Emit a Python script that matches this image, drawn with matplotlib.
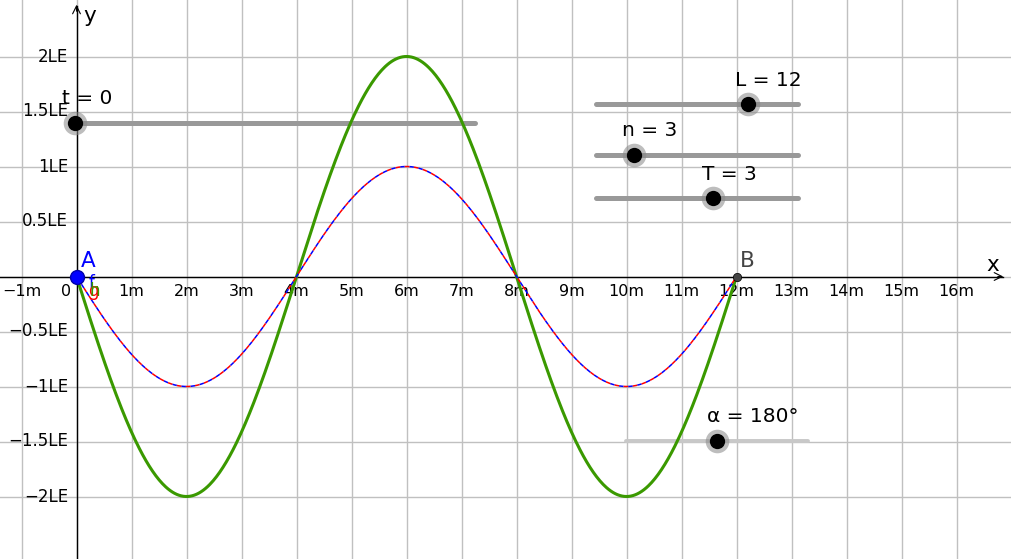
import numpy as np
import matplotlib
matplotlib.use('Agg')
import matplotlib.pyplot as plt

# ==========================================
# DATA (slider values as shown in the picture)
# ==========================================
t_val = 0
L_val = 12
n_val = 3
T_val = 3
alpha_deg = 180
amp = 1.0

x_ticks = list(range(-1, 17))
x_tick_labels = ['\u22121m', '0'] + [f'{i}m' for i in range(1, 17)]
y_ticks = [-2, -1.5, -1, -0.5, 0.5, 1, 1.5, 2]
y_tick_labels = ['\u22122LE', '\u22121.5LE', '\u22121LE', '\u22120.5LE',
                 '0.5LE', '1LE', '1.5LE', '2LE']

# sliders: name, label, value, min, max
sliders = [
    ('t', 't = 0', t_val, 0, 10),
    ('L', 'L = 12', L_val, 0, 16),
    ('n', 'n = 3', n_val, 0, 16),
    ('T', 'T = 3', T_val, 0, 5.2),
    ('alpha', '\u03b1 = 180\u00b0', alpha_deg, 0, 360),
]

# ==========================================
# LAYOUT (pixel geometry of the GeoGebra view)
# ==========================================
W, H = 1012, 559
OX, OY = 76.5, 276.5
SX, SY = 55.0, 110.0

# slider track in pixels: x0, x1, y, label x, label y, colour, width
slider_px = {
    't': (75, 475, 123, 62, 99, '#999999', 3.6),
    'L': (596, 798, 104, 735, 81, '#999999', 3.6),
    'n': (596, 798, 155, 622, 131, '#999999', 3.6),
    'T': (596, 798, 198, 702, 175, '#999999', 3.6),
    'alpha': (626, 808, 441, 707, 417, '#c8c8c8', 2.8),
}


def px(x, y):
    return (x - OX) / SX, (OY - y) / SY


GREEN = '#3a9900'

fig = plt.figure(figsize=(W / 100, H / 100), dpi=100)
ax = fig.add_axes([0, 0, 1, 1])
x_left, y_top = px(0, 0)
x_right, y_bot = px(W, H)
ax.set_xlim(x_left, x_right)
ax.set_ylim(y_bot, y_top)
for s in ax.spines.values():
    s.set_visible(False)
ax.set_xticks(x_ticks)
ax.set_yticks(y_ticks + [0])
ax.tick_params(length=0, labelbottom=False, labelleft=False)
ax.grid(True, color='#c0c0c0', lw=1)
ax.set_axisbelow(True)

# axes with open arrow heads
ax.plot([x_left, px(1003, 0)[0]], [0, 0], color='black', lw=1, zorder=2)
ax.plot([0, 0], [y_bot, px(0, 6)[1]], color='black', lw=1, zorder=2)
ax.annotate('', xy=px(1006, OY), xytext=px(995, OY),
            arrowprops=dict(arrowstyle='->', color='black', lw=0.8,
                            mutation_scale=14), zorder=2)
ax.annotate('', xy=px(OX, 2), xytext=px(OX, 14),
            arrowprops=dict(arrowstyle='->', color='black', lw=0.8,
                            mutation_scale=14), zorder=2)
ax.text(*px(993, 265), 'x', fontsize=15.5, ha='center', va='center')
ax.text(*px(90, 16), 'y', fontsize=15.5, ha='center', va='center')

# tick labels
for xv, lab in zip(x_ticks, x_tick_labels):
    if xv == 0:
        ax.text(*px(66, 292), lab, fontsize=11.5, ha='center', va='center')
    else:
        ax.text(xv, px(0, 292)[1], lab, fontsize=11.5, ha='center', va='center')
for yv, lab in zip(y_ticks, y_tick_labels):
    ax.text(px(68, 0)[0], yv, lab, fontsize=12, ha='right', va='center')

# standing wave: incident f, reflected g, sum h
k = n_val * np.pi / L_val
w = 2 * np.pi / T_val
a = np.deg2rad(alpha_deg)
xs = np.linspace(0, L_val, 600)
f = amp * np.sin(w * t_val - k * xs)
g = amp * np.sin(w * t_val + k * xs + a)
h = f + g

# sliders
for name, lab, val, lo, hi in sliders:
    x0, x1, yy, lx, ly, col, lw = slider_px[name]
    ax.plot([px(x0, yy)[0], px(x1, yy)[0]], [px(x0, yy)[1]] * 2,
            color=col, lw=lw, solid_capstyle='round', zorder=3)
    kx = x0 + (val - lo) / (hi - lo) * (x1 - x0)
    kp = px(kx, yy)
    ax.plot(*kp, 'o', ms=17, color='#888888', alpha=0.55, mec='none', zorder=6)
    ax.plot(*kp, 'o', ms=11, color='black', mec='none', zorder=7)
    ax.text(*px(lx, ly), lab, fontsize=14.5, ha='left', va='center', zorder=7)

ax.plot(xs, h, color=GREEN, lw=2.2, zorder=4)
ax.plot(xs, f, color='blue', lw=1.1, linestyle=(0, (3, 3)), zorder=4)
ax.plot(xs, g, color='red', lw=1.1, linestyle=(3, (3, 3)), zorder=4)

# points A and B
ax.plot(0, 0, 'o', ms=10, color='blue', mec='#0000aa', zorder=8)
ax.text(*px(88, 261), 'A', fontsize=15.5, color='blue', ha='center', va='center')
ax.plot(L_val, 0, 'o', ms=6, color='#444444', mec='black', mew=0.5, zorder=8)
ax.text(*px(747, 261), 'B', fontsize=15.5, color='#444444', ha='center', va='center')

# curve labels (they overlap in the original too)
ax.text(*px(92, 283), 'f', fontsize=12, color='blue', ha='center', va='center')
ax.text(*px(93, 291), 'g', fontsize=12, color='red', ha='center', va='center')
ax.text(*px(95, 291), 'h', fontsize=12, color=GREEN, ha='center', va='center')

fig.savefig('out.png', dpi=100)
